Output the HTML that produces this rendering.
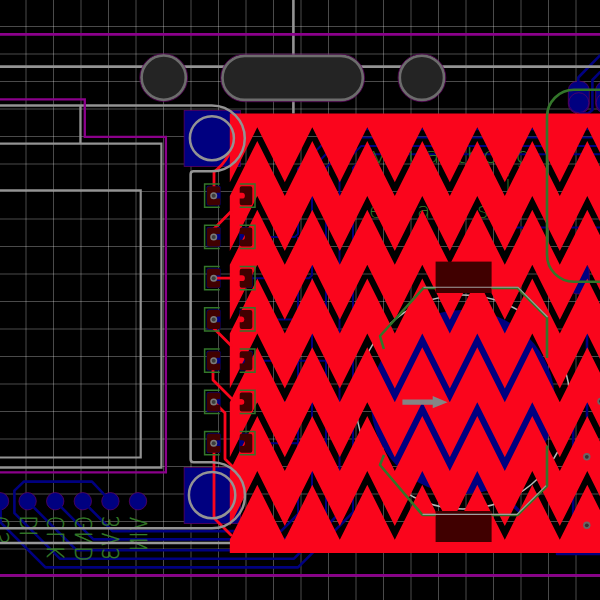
<!DOCTYPE html>
<html lang="en"><head><meta charset="utf-8"><title>PCB layout view</title>
<style>html,body{margin:0;padding:0;background:#000;overflow:hidden}svg{display:block}text{font-family:"DejaVu Sans Light","DejaVu Sans","Liberation Sans",sans-serif;font-weight:200}</style></head><body>
<svg width="600" height="600" viewBox="0 0 600 600">
<rect width="600" height="600" fill="#000"/>
<g id="grid" stroke="#fff" stroke-opacity="0.29" stroke-width="1">
<line x1="26.00" y1="0" x2="26.00" y2="600"/><line x1="0" y1="26.50" x2="600" y2="26.50"/>
<line x1="53.50" y1="0" x2="53.50" y2="600"/><line x1="0" y1="54.00" x2="600" y2="54.00"/>
<line x1="81.00" y1="0" x2="81.00" y2="600"/><line x1="0" y1="81.50" x2="600" y2="81.50"/>
<line x1="108.50" y1="0" x2="108.50" y2="600"/><line x1="0" y1="109.00" x2="600" y2="109.00"/>
<line x1="136.00" y1="0" x2="136.00" y2="600"/><line x1="0" y1="136.50" x2="600" y2="136.50"/>
<line x1="163.50" y1="0" x2="163.50" y2="600"/><line x1="0" y1="164.00" x2="600" y2="164.00"/>
<line x1="191.00" y1="0" x2="191.00" y2="600"/><line x1="0" y1="191.50" x2="600" y2="191.50"/>
<line x1="218.50" y1="0" x2="218.50" y2="600"/><line x1="0" y1="219.00" x2="600" y2="219.00"/>
<line x1="246.00" y1="0" x2="246.00" y2="600"/><line x1="0" y1="246.50" x2="600" y2="246.50"/>
<line x1="273.50" y1="0" x2="273.50" y2="600"/><line x1="0" y1="274.00" x2="600" y2="274.00"/>
<line x1="301.00" y1="0" x2="301.00" y2="600"/><line x1="0" y1="301.50" x2="600" y2="301.50"/>
<line x1="328.50" y1="0" x2="328.50" y2="600"/><line x1="0" y1="329.00" x2="600" y2="329.00"/>
<line x1="356.00" y1="0" x2="356.00" y2="600"/><line x1="0" y1="356.50" x2="600" y2="356.50"/>
<line x1="383.50" y1="0" x2="383.50" y2="600"/><line x1="0" y1="384.00" x2="600" y2="384.00"/>
<line x1="411.00" y1="0" x2="411.00" y2="600"/><line x1="0" y1="411.50" x2="600" y2="411.50"/>
<line x1="438.50" y1="0" x2="438.50" y2="600"/><line x1="0" y1="439.00" x2="600" y2="439.00"/>
<line x1="466.00" y1="0" x2="466.00" y2="600"/><line x1="0" y1="466.50" x2="600" y2="466.50"/>
<line x1="493.50" y1="0" x2="493.50" y2="600"/><line x1="0" y1="494.00" x2="600" y2="494.00"/>
<line x1="521.00" y1="0" x2="521.00" y2="600"/><line x1="0" y1="521.50" x2="600" y2="521.50"/>
<line x1="548.50" y1="0" x2="548.50" y2="600"/><line x1="0" y1="549.00" x2="600" y2="549.00"/>
<line x1="576.00" y1="0" x2="576.00" y2="600"/><line x1="0" y1="576.50" x2="600" y2="576.50"/>
<line x1="603.50" y1="0" x2="603.50" y2="600"/><line x1="0" y1="604.00" x2="600" y2="604.00"/>
</g>
<g id="bcu" fill="#000080" stroke="none">
<rect x="184.1" y="110.3" width="56.3" height="56.2" stroke="#640064" stroke-width="0.7"/>
<rect x="184.1" y="467.6" width="56.3" height="56" stroke="#640064" stroke-width="0.7"/>
<circle cx="0.0" cy="501.2" r="8.7" stroke="#640064" stroke-width="0.7"/>
<circle cx="27.6" cy="501.2" r="8.7" stroke="#640064" stroke-width="0.7"/>
<circle cx="55.2" cy="501.2" r="8.7" stroke="#640064" stroke-width="0.7"/>
<circle cx="82.8" cy="501.2" r="8.7" stroke="#640064" stroke-width="0.7"/>
<circle cx="110.4" cy="501.2" r="8.7" stroke="#640064" stroke-width="0.7"/>
<circle cx="138.0" cy="501.2" r="8.7" stroke="#640064" stroke-width="0.7"/>
<rect x="568.3" y="81.3" width="21" height="31.8" rx="9" stroke="#640064" stroke-width="0.7"/>
<circle cx="578.8" cy="102.7" r="10" stroke="#640064" stroke-width="0.7"/>
<rect x="595.7" y="81.3" width="21" height="31.8" rx="9" stroke="#640064" stroke-width="0.7"/>
<circle cx="606.2" cy="102.7" r="10" stroke="#640064" stroke-width="0.7"/>
<rect x="568.3" y="262" width="21" height="32" rx="9" stroke="#640064" stroke-width="0.7"/>
<circle cx="463" cy="402" r="92"/>
</g>
<g id="btraces" fill="none" stroke="#000080" stroke-width="2.6" stroke-linejoin="round" stroke-linecap="round">
<path d="M0.6 501 L0.6 522.5 L45.5 567.4 L298 567.4 L353 512.4"/>
<path d="M110.4 501.2 L92 481.6 L23.8 481.6 L14.4 490.6 L14.4 513.1 L59.9 558.7 L294 558.7 L339.5 513.2"/>
<path d="M27.6 501.2 L76.5 550.2 L288.5 550.2 L326 512.7"/>
<path d="M55.3 501.2 L93.4 539.4 L285 539.4 L312 512.4"/>
<path d="M82.8 501.2 L112.6 531.1 L281 531.1 L298 514.1"/>
<path d="M578.3 82 L578.3 77.5 L600 55.5"/>
<path d="M580 113.5 L588 113.5 L592.4 110 L592.4 80 L600 72.2"/>
<path d="M557 554 L600 554"/>
<path d="M587 292 V417 M573.2 424 V520"/>
<path d="M511 503 L523 515" stroke-width="3.4"/>
</g>
<g id="bthin" fill="none" stroke="#000080" stroke-width="2" stroke-linejoin="round">
<path d="M241 236.9 L295.0 236.9 L298.0 233.9 L298.0 168.7 L345.7 121.0 L600 121.0"/>
<path d="M298.0 514 L298.0 236.9"/>
<path d="M241 278.2 L309.0 278.2 L312.0 275.2 L312.0 168.2 L350.9 129.3 L600 129.3"/>
<path d="M312.0 514 L312.0 278.2"/>
<path d="M241 319.4 L323.0 319.4 L326.0 316.4 L326.0 167.7 L356.1 137.6 L600 137.6"/>
<path d="M326.0 514 L326.0 319.4"/>
<path d="M241 360.7 L336.5 360.7 L339.5 357.7 L339.5 167.7 L361.3 145.9 L600 145.9"/>
<path d="M339.5 514 L339.5 360.7"/>
<path d="M241 401.9 L350.0 401.9 L353.0 398.9 L353.0 167.7 L366.5 154.2 L600 154.2"/>
<path d="M353.0 514 L353.0 401.9"/>
<path d="M241 443.2 L300 443.2"/>
<path d="M241 195.7 L250 195.7"/>
<path d="M600 227.5 L505 227.5"/>
</g>
<g fill="#000080">
<rect x="206.6" y="185.8" width="14" height="19.8" rx="1.5"/><rect x="239.3" y="185.8" width="13.3" height="19.8" rx="1.5"/>
<rect x="206.6" y="227.0" width="14" height="19.8" rx="1.5"/><rect x="239.3" y="227.0" width="13.3" height="19.8" rx="1.5"/>
<rect x="206.6" y="268.3" width="14" height="19.8" rx="1.5"/><rect x="239.3" y="268.3" width="13.3" height="19.8" rx="1.5"/>
<rect x="206.6" y="309.6" width="14" height="19.8" rx="1.5"/><rect x="239.3" y="309.6" width="13.3" height="19.8" rx="1.5"/>
<rect x="206.6" y="350.8" width="14" height="19.8" rx="1.5"/><rect x="239.3" y="350.8" width="13.3" height="19.8" rx="1.5"/>
<rect x="206.6" y="392.1" width="14" height="19.8" rx="1.5"/><rect x="239.3" y="392.1" width="13.3" height="19.8" rx="1.5"/>
<rect x="206.6" y="433.3" width="14" height="19.8" rx="1.5"/><rect x="239.3" y="433.3" width="13.3" height="19.8" rx="1.5"/>
</g>
<g id="bsilk" fill="#357d29" stroke="#357d29" stroke-width="0.45" font-size="23.3">
<text transform="matrix(0 0.82 1 0 9.1 516)" x="0.1 19.1" y="0">CS</text>
<text transform="matrix(0 0.82 1 0 37.0 516)" x="-0.5 17.7" y="0">DI</text>
<text transform="matrix(0 0.82 1 0 64.0 516)" x="0.1 18.8 35.9" y="0">CLK</text>
<text transform="matrix(0 0.82 1 0 91.7 516)" x="0.1 18.8 37.3" y="0">GND</text>
<text transform="matrix(0 0.82 1 0 119.0 516)" x="-0.2 20.5 39.0" y="0">3V3</text>
<text transform="matrix(0 0.82 1 0 146.8 516)" x="1.3 19.1 26.3" y="0">VIN</text>
</g>
<g fill="#33762a" font-size="22">
<text x="371" y="163" textLength="160" lengthAdjust="spacingAndGlyphs">visual thoug</text><text x="505" y="191">is</text><text x="369" y="218">e</text><text x="417" y="218">at</text><text x="477" y="218">s</text>
</g>
<circle cx="463" cy="402" r="107" fill="none" stroke="#b8b8b8" stroke-width="1.5"/>
<g id="fcu" fill="#fa051c">
<polygon points="229.8,113.5 614.8,113.5 614.8,182.3 587.3,127.3 559.8,182.3 532.3,127.3 504.8,182.3 477.3,127.3 449.8,182.3 422.3,127.3 394.8,182.3 367.3,127.3 339.8,182.3 312.3,127.3 284.8,182.3 257.3,127.3 229.8,182.3"/>
<polygon points="229.8,196.0 257.3,141.0 284.8,196.0 312.3,141.0 339.8,196.0 367.3,141.0 394.8,196.0 422.3,141.0 449.8,196.0 477.3,141.0 504.8,196.0 532.3,141.0 559.8,196.0 587.3,141.0 614.8,196.0 614.8,251.1 587.3,196.1 559.8,251.1 532.3,196.1 504.8,251.1 477.3,196.1 449.8,251.1 422.3,196.1 394.8,251.1 367.3,196.1 339.8,251.1 312.3,196.1 284.8,251.1 257.3,196.1 229.8,251.1"/>
<polygon points="229.8,264.8 257.3,209.8 284.8,264.8 312.3,209.8 339.8,264.8 367.3,209.8 394.8,264.8 422.3,209.8 449.8,264.8 477.3,209.8 504.8,264.8 532.3,209.8 559.8,264.8 587.3,209.8 614.8,264.8 614.8,319.8 587.3,264.8 559.8,319.8 532.3,264.8 504.8,319.8 477.3,264.8 449.8,319.8 422.3,264.8 394.8,319.8 367.3,264.8 339.8,319.8 312.3,264.8 284.8,319.8 257.3,264.8 229.8,319.8"/>
<polygon points="229.8,333.6 257.3,278.6 284.8,333.6 312.3,278.6 339.8,333.6 367.3,278.6 394.8,333.6 422.3,278.6 449.8,333.6 477.3,278.6 504.8,333.6 532.3,278.6 559.8,333.6 587.3,278.6 614.8,333.6 614.8,388.6 587.3,333.6 559.8,388.6 532.3,333.6 504.8,388.6 477.3,333.6 449.8,388.6 422.3,333.6 394.8,388.6 367.3,333.6 339.8,388.6 312.3,333.6 284.8,388.6 257.3,333.6 229.8,388.6"/>
<polygon points="229.8,402.3 257.3,347.3 284.8,402.3 312.3,347.3 339.8,402.3 367.3,347.3 394.8,402.3 422.3,347.3 449.8,402.3 477.3,347.3 504.8,402.3 532.3,347.3 559.8,402.3 587.3,347.3 614.8,402.3 614.8,457.3 587.3,402.3 559.8,457.3 532.3,402.3 504.8,457.3 477.3,402.3 449.8,457.3 422.3,402.3 394.8,457.3 367.3,402.3 339.8,457.3 312.3,402.3 284.8,457.3 257.3,402.3 229.8,457.3"/>
<polygon points="229.8,471.1 257.3,416.1 284.8,471.1 312.3,416.1 339.8,471.1 367.3,416.1 394.8,471.1 422.3,416.1 449.8,471.1 477.3,416.1 504.8,471.1 532.3,416.1 559.8,471.1 587.3,416.1 614.8,471.1 614.8,526.1 587.3,471.1 559.8,526.1 532.3,471.1 504.8,526.1 477.3,471.1 449.8,526.1 422.3,471.1 394.8,526.1 367.3,471.1 339.8,526.1 312.3,471.1 284.8,526.1 257.3,471.1 229.8,526.1"/>
<polygon points="229.8,539.8 257.3,484.8 284.8,539.8 312.3,484.8 339.8,539.8 367.3,484.8 394.8,539.8 422.3,484.8 449.8,539.8 477.3,484.8 504.8,539.8 532.3,484.8 559.8,539.8 587.3,484.8 614.8,539.8 614.8,553.0 229.8,553.0"/>
</g>
<g id="ftr" fill="none" stroke="#fa051c" stroke-width="2.8" stroke-linejoin="round" stroke-linecap="round">
<path d="M214 188 L214 172 Q223 165 228 156 Q233 147 234 138"/>
<path d="M213.8 228.9 L231 211.4"/>
<path d="M214 278.2 L231 278.2"/>
<path d="M213 327.4 L231 345.4"/>
<path d="M213 368.7 L213 380 L233 400"/>
<path d="M214 401.9 L225 413 L225 459 L234 468"/>
<path d="M214 451.2 L214 518 L231 535"/>
</g>
<g id="pads" fill="#400000">
<path d="M209 186.2 H218.3 Q220.3 186.2 220.3 188.2 V192.8 H217.6 A2.9 2.9 0 0 0 217.6 198.6 H220.3 V203.2 Q220.3 205.2 218.3 205.2 H209 Q207 205.2 207 203.2 V188.2 Q207 186.2 209 186.2 Z"/>
<path d="M241.7 186.2 H250.3 Q252.3 186.2 252.3 188.2 V203.2 Q252.3 205.2 250.3 205.2 H241.7 Q239.7 205.2 239.7 203.2 V198.6 H242.0 A2.9 2.9 0 0 0 242.0 192.8 H239.7 V188.2 Q239.7 186.2 241.7 186.2 Z"/>
<path d="M209 227.4 H218.3 Q220.3 227.4 220.3 229.4 V234.0 H217.6 A2.9 2.9 0 0 0 217.6 239.8 H220.3 V244.4 Q220.3 246.4 218.3 246.4 H209 Q207 246.4 207 244.4 V229.4 Q207 227.4 209 227.4 Z"/>
<path d="M241.7 227.4 H250.3 Q252.3 227.4 252.3 229.4 V244.4 Q252.3 246.4 250.3 246.4 H241.7 Q239.7 246.4 239.7 244.4 V239.8 H242.0 A2.9 2.9 0 0 0 242.0 234.0 H239.7 V229.4 Q239.7 227.4 241.7 227.4 Z"/>
<path d="M209 268.7 H218.3 Q220.3 268.7 220.3 270.7 V275.3 H217.6 A2.9 2.9 0 0 0 217.6 281.1 H220.3 V285.7 Q220.3 287.7 218.3 287.7 H209 Q207 287.7 207 285.7 V270.7 Q207 268.7 209 268.7 Z"/>
<path d="M241.7 268.7 H250.3 Q252.3 268.7 252.3 270.7 V285.7 Q252.3 287.7 250.3 287.7 H241.7 Q239.7 287.7 239.7 285.7 V281.1 H242.0 A2.9 2.9 0 0 0 242.0 275.3 H239.7 V270.7 Q239.7 268.7 241.7 268.7 Z"/>
<path d="M209 309.9 H218.3 Q220.3 309.9 220.3 311.9 V316.6 H217.6 A2.9 2.9 0 0 0 217.6 322.3 H220.3 V326.9 Q220.3 328.9 218.3 328.9 H209 Q207 328.9 207 326.9 V311.9 Q207 309.9 209 309.9 Z"/>
<path d="M241.7 309.9 H250.3 Q252.3 309.9 252.3 311.9 V326.9 Q252.3 328.9 250.3 328.9 H241.7 Q239.7 328.9 239.7 326.9 V322.3 H242.0 A2.9 2.9 0 0 0 242.0 316.6 H239.7 V311.9 Q239.7 309.9 241.7 309.9 Z"/>
<path d="M209 351.2 H218.3 Q220.3 351.2 220.3 353.2 V357.8 H217.6 A2.9 2.9 0 0 0 217.6 363.6 H220.3 V368.2 Q220.3 370.2 218.3 370.2 H209 Q207 370.2 207 368.2 V353.2 Q207 351.2 209 351.2 Z"/>
<path d="M241.7 351.2 H250.3 Q252.3 351.2 252.3 353.2 V368.2 Q252.3 370.2 250.3 370.2 H241.7 Q239.7 370.2 239.7 368.2 V363.6 H242.0 A2.9 2.9 0 0 0 242.0 357.8 H239.7 V353.2 Q239.7 351.2 241.7 351.2 Z"/>
<path d="M209 392.4 H218.3 Q220.3 392.4 220.3 394.4 V399.1 H217.6 A2.9 2.9 0 0 0 217.6 404.8 H220.3 V409.4 Q220.3 411.4 218.3 411.4 H209 Q207 411.4 207 409.4 V394.4 Q207 392.4 209 392.4 Z"/>
<path d="M241.7 392.4 H250.3 Q252.3 392.4 252.3 394.4 V409.4 Q252.3 411.4 250.3 411.4 H241.7 Q239.7 411.4 239.7 409.4 V404.8 H242.0 A2.9 2.9 0 0 0 242.0 399.1 H239.7 V394.4 Q239.7 392.4 241.7 392.4 Z"/>
<path d="M209 433.7 H218.3 Q220.3 433.7 220.3 435.7 V440.3 H217.6 A2.9 2.9 0 0 0 217.6 446.1 H220.3 V450.7 Q220.3 452.7 218.3 452.7 H209 Q207 452.7 207 450.7 V435.7 Q207 433.7 209 433.7 Z"/>
<path d="M241.7 433.7 H250.3 Q252.3 433.7 252.3 435.7 V450.7 Q252.3 452.7 250.3 452.7 H241.7 Q239.7 452.7 239.7 450.7 V446.1 H242.0 A2.9 2.9 0 0 0 242.0 440.3 H239.7 V435.7 Q239.7 433.7 241.7 433.7 Z"/>
<rect x="435.6" y="261.6" width="56" height="31.4"/>
<rect x="435.6" y="511" width="56" height="31"/>
</g>
<g id="vias">
<circle cx="213.7" cy="195.7" r="3.5" fill="#7a7a7a"/><circle cx="213.7" cy="195.7" r="2" fill="#3c3c3c"/>
<circle cx="213.7" cy="236.9" r="3.5" fill="#7a7a7a"/><circle cx="213.7" cy="236.9" r="2" fill="#3c3c3c"/>
<circle cx="213.7" cy="278.2" r="3.5" fill="#7a7a7a"/><circle cx="213.7" cy="278.2" r="2" fill="#3c3c3c"/>
<circle cx="213.7" cy="319.4" r="3.5" fill="#7a7a7a"/><circle cx="213.7" cy="319.4" r="2" fill="#3c3c3c"/>
<circle cx="213.7" cy="360.7" r="3.5" fill="#7a7a7a"/><circle cx="213.7" cy="360.7" r="2" fill="#3c3c3c"/>
<circle cx="213.7" cy="401.9" r="3.5" fill="#7a7a7a"/><circle cx="213.7" cy="401.9" r="2" fill="#3c3c3c"/>
<circle cx="213.7" cy="443.2" r="3.5" fill="#7a7a7a"/><circle cx="213.7" cy="443.2" r="2" fill="#3c3c3c"/>
<circle cx="586.8" cy="456.8" r="3.7" fill="#6c6464"/><circle cx="586.8" cy="456.8" r="1.9" fill="#383030"/>
<circle cx="586.8" cy="525.3" r="3.7" fill="#6c6464"/><circle cx="586.8" cy="525.3" r="1.9" fill="#383030"/>
<circle cx="601" cy="401.3" r="3.7" fill="#6c6464"/><circle cx="601" cy="401.3" r="1.9" fill="#383030"/>
</g>
<g id="fsilk" fill="none" stroke="#33762a" stroke-width="1.5">
<path d="M219.7 184.0 H204.6 V207.3 H219.7"/>
<path d="M239.7 184.0 H255 V207.3 H239.7"/>
<path d="M219.7 225.2 H204.6 V248.5 H219.7"/>
<path d="M239.7 225.2 H255 V248.5 H239.7"/>
<path d="M219.7 266.5 H204.6 V289.8 H219.7"/>
<path d="M239.7 266.5 H255 V289.8 H239.7"/>
<path d="M219.7 307.8 H204.6 V331.1 H219.7"/>
<path d="M239.7 307.8 H255 V331.1 H239.7"/>
<path d="M219.7 349.0 H204.6 V372.3 H219.7"/>
<path d="M239.7 349.0 H255 V372.3 H239.7"/>
<path d="M219.7 390.2 H204.6 V413.6 H219.7"/>
<path d="M239.7 390.2 H255 V413.6 H239.7"/>
<path d="M219.7 431.5 H204.6 V454.8 H219.7"/>
<path d="M239.7 431.5 H255 V454.8 H239.7"/>
</g>
<g fill="none" stroke="#33762a" stroke-width="2.6" stroke-linejoin="round">
<path d="M600 89.8 H574 A27 27 0 0 0 547 116.8 V254.8 A27 27 0 0 0 574 281.8 H600"/>
<path d="M383.8 349 L380 336 L423.5 288 H435.6 M491.6 288 H517.7 L547 317.5 V358"/>
<path d="M384 455 L380 465 L422.5 515 H435.6 M491.6 515 H517.5 L547 486 V445.5"/>
</g>
<g fill="none" stroke="#a0a0a0" stroke-width="1.1">
<path d="M423.5 287.2 H517.9 L547.6 317"/>
<path d="M422.5 514.4 H517 L546 485.6"/>
</g>
<path d="M402.4 399.4 H432.7 V396 L447.6 402.2 L432.7 408.2 V404.8 H402.4 Z" fill="#858585"/>
<g id="edge" fill="none" stroke="#939393" stroke-width="2.2">
<path d="M0 66.6 H600" stroke-width="2.7"/>
<path d="M293.4 0 V113.4" stroke-width="2.6"/>
<path stroke-width="2.5" d="M0 105.4 H211.9 A32.9 32.9 0 0 1 211.9 171.2 H193.6 Q190.6 171.2 190.6 174.2 V459.3 Q190.6 462.3 193.6 462.3 H212 A33 33 0 0 1 212 528.3 H0"/>
<path d="M80.4 105.5 V143.6 M0 143.6 H161.4 V467.7 H0"/>
<path d="M0 190.3 H140.7 V457.5 H0"/>
<g stroke-width="2.5"><circle cx="211.9" cy="138.2" r="22"/><circle cx="212.1" cy="495.1" r="23.2"/></g>
</g>
<path d="M0 543 H230" fill="none" stroke="#999999" stroke-width="2.3"/>
<g id="holes" fill="#242424" stroke="#6c6c6c" stroke-width="2.8">
<circle cx="163.7" cy="77.6" r="22.2"/><circle cx="421.9" cy="77.8" r="22.2"/>
<rect x="222.4" y="55.8" width="140.5" height="44.2" rx="22.1"/>
</g>
<g fill="none" stroke="#640064" stroke-width="0.7">
<circle cx="163.7" cy="77.6" r="23.9"/><circle cx="421.9" cy="77.8" r="23.9"/>
<rect x="220.7" y="54.1" width="143.9" height="47.6" rx="23.8"/>
</g>
<g id="margin" fill="none" stroke="#8b008b" stroke-width="2.7">
<path d="M0 34.3 H600"/><path d="M0 575.4 H600"/>
<path d="M0 99.3 H84.8 V136.9 H165.9 V472.4 H0" stroke-width="2.3"/>
</g>
</svg></body></html>
